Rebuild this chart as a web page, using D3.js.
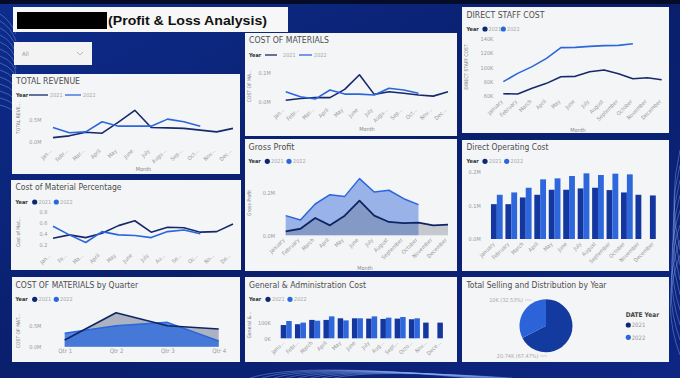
<!DOCTYPE html>
<html><head><meta charset="utf-8">
<script src="https://cdn.jsdelivr.net/npm/d3@7"></script>
<style>
html,body{margin:0;padding:0;background:#0a1f6b;}
svg{display:block;}
</style></head><body><svg id="c" width="680" height="378"></svg>
<script>
// ---------------- DATA ----------------
const months = ["January","February","March","April","May","June","July","August","September","October","November","December"];
const monthLblA = ["Jan...","Febr...","Mar...","April","May","June","July","Augu...","Sep...","Oct...","Nov...","Dec..."];
const monthLblB = ["Jan...","Fe...","Ma...","April","May","June","July","Au...","Se...","Oc...","No...","De..."];
const monthLblC = ["Janu...","Febr...","March","April","May","June","July","Aug...","Sept...","Octo...","Nov...","Dece..."];
const quarters = ["Qtr 1","Qtr 2","Qtr 3","Qtr 4"];
const years = ["2021","2022"];

const revenue2021 = [0.10,0.14,0.22,0.20,0.45,0.72,0.33,0.32,0.31,0.27,0.23,0.31];
const revenue2022 = [0.33,0.21,0.23,0.46,0.36,0.36,0.36,0.52,0.46,0.36];

const materials2021 = [0.006,0.012,0.015,0.015,0.043,0.093,0.026,0.035,0.030,0.024,0.020,0.035];
const materials2022 = [0.035,0.018,0.010,0.041,0.027,0.027,0.024,0.047,0.041,0.030];

const staff2021 = [62.8,62.4,70.4,77.4,86.8,87.3,93.9,96.2,91.0,84.0,85.4,82.6];
const staff2022 = [79.8,91.5,101.0,112.7,127.8,128.2,129.6,130.6,131.0,133.4];

const matPct2021 = [0.32,0.38,0.33,0.41,0.55,0.64,0.43,0.52,0.51,0.43,0.44,0.58];
const matPct2022 = [0.54,0.38,0.24,0.44,0.38,0.37,0.33,0.44,0.47,0.40];

const gross2021 = [0.019,0.031,0.082,0.047,0.093,0.164,0.093,0.063,0.058,0.060,0.047,0.050];
const gross2022 = [0.093,0.072,0.148,0.192,0.184,0.268,0.205,0.213,0.173,0.145];

const opCost2021 = [0.104,0.104,0.124,0.132,0.147,0.147,0.151,0.153,0.146,0.139,0.132,0.130];
const opCost2022 = [0.132,0.139,0.153,0.178,0.181,0.188,0.196,0.191,0.195,0.193];

const matQ2021 = [0.16,0.81,0.50,0.42];
const matQ2022 = [0.32,0.50,0.58,0.135];

const ga2021 = [83,88,115,115,125,125,123,121,123,119,98,98];
const ga2022 = [108,98,110,137,112,125,137,129,133,125];

const selling = [20.74,10];
const sellingLabels = ["20.74K (67.47%)","10K (32.53%)"];

// ---------------- STYLE ----------------
const FONT = "'Liberation Sans Narrow','DejaVu Sans Condensed',Roboto,sans-serif";
const C21 = "#17296a", C22 = "#2c66db";
const B21 = "#14379f", B22 = "#2e67dc";
const TXT = "#9a9a9a";

const svg = d3.select("#c");
const defs = svg.append("defs");
const bg = defs.append("linearGradient").attr("id","bg").attr("x1",0).attr("y1",0).attr("x2",1).attr("y2",1);
bg.append("stop").attr("offset",0).attr("stop-color","#0d2c8c");
bg.append("stop").attr("offset",0.5).attr("stop-color","#0a1f6c");
bg.append("stop").attr("offset",1).attr("stop-color","#0c2682");
svg.append("rect").attr("width",680).attr("height",378).attr("fill","url(#bg)");
svg.append("rect").attr("width",680).attr("height",4).attr("fill","#050c28");

// decorative swirls
const sw = svg.append("g").attr("fill","none").attr("stroke","#8fb0f5").attr("stroke-opacity",0.45).attr("stroke-width",0.9);
for(let i=0;i<14;i++){
  sw.append("path").attr("d",`M0,${14+i*7} Q${10+i},${20+i*7} ${16},${34+i*7}`);
}
for(let i=0;i<8;i++){
  sw.append("path").attr("d",`M${250+i*12},378 Q${300+i*10},${362+i} ${470+i*6},378`);
  sw.append("path").attr("d",`M680,${150+i*15} Q${668-i},${200+i*15} 680,${250+i*15}`);
}

function panel(x,y,w,h){
  svg.append("rect").attr("x",x).attr("y",y).attr("width",w).attr("height",h).attr("fill","#f3f5f7");
}
function title(x,y,t,len,size){
  svg.append("text").attr("x",x).attr("y",y).attr("font-family",FONT).attr("font-size",size)
    .attr("fill","#4d4d4d").attr("textLength",len).attr("lengthAdjust","spacingAndGlyphs").text(t);
}
function smallText(x,y,t,opts={}){
  return svg.append("text").attr("x",x).attr("y",y).attr("font-family",FONT).attr("font-size",opts.size||5.5)
    .attr("fill",opts.fill||TXT).attr("text-anchor",opts.anchor||"start")
    .attr("font-weight",opts.weight||"normal").text(t);
}
function legend(y, yearX, items, kind){
  smallText(yearX, y+2, "Year", {fill:"#333", weight:"bold"});
  items.forEach(it=>{
    if(kind==="line"){
      svg.append("line").attr("x1",it.x).attr("x2",it.x2).attr("y1",y).attr("y2",y)
        .attr("stroke",it.color).attr("stroke-width",1.3);
    } else {
      svg.append("circle").attr("cx",it.x).attr("cy",y).attr("r",2.6).attr("fill",it.color);
    }
    smallText(it.tx, y+2, it.label, {fill:"#a8a8a8"});
  });
}
function yAxis(scale, vals, fmt, xRight){
  const g = svg.append("g").attr("transform",`translate(${xRight},0)`)
    .call(d3.axisLeft(scale).tickValues(vals).tickFormat(fmt).tickSize(0).tickPadding(0));
  g.select(".domain").remove();
  g.selectAll("text").attr("font-family",FONT).attr("font-size",5.5).attr("fill",TXT);
}
function yTitle(x,cy,t){
  svg.append("text").attr("transform",`translate(${x},${cy}) rotate(-90)`).attr("text-anchor","middle")
    .attr("font-family",FONT).attr("font-size",5).attr("fill","#777").text(t);
}
function xAxisRot(scale, labels, y, dx){
  const g = svg.append("g").attr("transform",`translate(${dx},${y})`)
    .call(d3.axisBottom(scale).tickSize(0).tickPadding(0).tickFormat((d,i)=>labels[i]));
  g.select(".domain").remove();
  g.selectAll("text").attr("x",0).attr("y",0).attr("dy","0.35em").attr("text-anchor","end")
    .attr("transform","rotate(-45)").attr("font-family",FONT).attr("font-size",5.5).attr("fill",TXT);
}
function lineSeries(x, y, cats, vals, color, w){
  const ln = d3.line().x((d,i)=>x(cats[i])).y(d=>y(d));
  svg.append("path").attr("d",ln(vals)).attr("fill","none").attr("stroke",color)
    .attr("stroke-width",w).attr("stroke-linejoin","round");
}
function areaSeries(x, y, cats, vals, fill){
  const ar = d3.area().x((d,i)=>x(cats[i])).y0(y(0)).y1(d=>y(d));
  svg.append("path").attr("d",ar(vals)).attr("fill",fill);
}

// ---------------- TITLE + SLICER ----------------
svg.append("rect").attr("x",13).attr("y",7).attr("width",275).attr("height",25).attr("fill","#f7f7f7");
svg.append("rect").attr("x",17).attr("y",12).attr("width",90).attr("height",17).attr("fill","#000");
svg.append("text").attr("x",108).attr("y",25).attr("font-family","'Liberation Sans',Arial,sans-serif")
  .attr("font-weight","bold").attr("font-size",12.5).attr("fill","#111")
  .attr("textLength",159).attr("lengthAdjust","spacingAndGlyphs").text("(Profit & Loss Analysis)");
svg.append("rect").attr("x",14).attr("y",42).attr("width",78).attr("height",23).attr("fill","#f3f3f3");
smallText(22,56,"All",{size:6,fill:"#999"});
svg.append("path").attr("d","M77,52 L80,55 L83,52").attr("fill","none").attr("stroke","#aaa").attr("stroke-width",0.8);

// ---------------- TOTAL REVENUE ----------------
panel(12,74,228,100);
title(16,84,"TOTAL REVENUE",64,8.5);
legend(95,16,[{x:29,x2:48,tx:50,label:"2021",color:C21},{x:65,x2:81,tx:83,label:"2022",color:C22}],"line");
{
  const x = d3.scalePoint(months,[53,233]);
  const y = d3.scaleLinear().domain([0,0.5]).range([142,120]);
  yAxis(y,[0,0.5],d=>d3.format(".1f")(d)+"M",41.5);
  yTitle(20,118,"TOTAL REVE...");
  xAxisRot(x,monthLblA,150,-3);
  smallText(143.5,171,"Month",{anchor:"middle",fill:"#888"});
  lineSeries(x,y,months,revenue2021,C21,1.6);
  lineSeries(x,y,months,revenue2022,C22,1.6);
}

// ---------------- COST OF MATERIALS ----------------
panel(245,33,212,103);
title(249,43.3,"COST OF MATERIALS",80,8.5);
legend(55,249,[{x:265,x2:277,tx:283,label:"2021",color:C21},{x:299,x2:312,tx:314,label:"2022",color:C22}],"line");
{
  const x = d3.scalePoint(months,[285.7,448]);
  const y = d3.scaleLinear().domain([0,0.1]).range([102,72.7]);
  yAxis(y,[0,0.1],d=>d3.format(".1f")(d)+"M",270.7);
  yTitle(251,86,"COST OF MA...");
  xAxisRot(x,monthLblA,109,-3);
  smallText(367,131,"Month",{anchor:"middle",fill:"#888"});
  lineSeries(x,y,months,materials2021,C21,1.6);
  lineSeries(x,y,months,materials2022,C22,1.6);
}

// ---------------- DIRECT STAFF COST ----------------
panel(462,7,207,126);
title(466.5,17.5,"DIRECT STAFF COST",78,8.5);
legend(29,466.5,[{x:485,tx:488.5,label:"2021",color:"#0c2774"},{x:503.3,tx:507,label:"2022",color:C22}],"dot");
{
  const x = d3.scalePoint(months,[503.3,661.7]);
  const y = d3.scaleLinear().domain([60,140]).range([95.7,39]);
  yAxis(y,[60,80,100,120,140],d=>d+"K",493.3);
  yTitle(468,67,"DIRECT STAFF COST");
  xAxisRot(x,months,100.5,-2);
  smallText(578,131.5,"Month",{anchor:"middle",fill:"#888"});
  lineSeries(x,y,months,staff2021,C21,1.6);
  lineSeries(x,y,months,staff2022,C22,1.6);
}

// ---------------- COST OF MATERIAL PERCENTAGE ----------------
panel(11,180,230,90);
title(15.5,190,"Cost of Material Percentage",106,9.5);
legend(202,15.5,[{x:34.7,tx:38.5,label:"2021",color:"#0c2774"},{x:56.3,tx:60,label:"2022",color:C22}],"dot");
{
  const x = d3.scalePoint(months,[53,233]);
  const y = d3.scaleLinear().domain([0.2,0.8]).range([244.7,212]);
  yAxis(y,[0.2,0.4,0.6,0.8],d=>d3.format(".1f")(d),47.3);
  yTitle(20,232,"Cost of Mat...");
  xAxisRot(x,monthLblB,254.5,-4);
  lineSeries(x,y,months,matPct2021,C21,1.6);
  lineSeries(x,y,months,matPct2022,C22,1.6);
}

// ---------------- GROSS PROFIT ----------------
panel(245,139,212,132);
title(248.5,149.7,"Gross Profit",46,9.5);
legend(161.3,248.5,[{x:267.3,tx:271,label:"2021",color:"#0c2774"},{x:289,tx:293,label:"2022",color:C22}],"dot");
{
  const x = d3.scalePoint(months,[285.7,448]);
  const y = d3.scaleLinear().domain([0,0.2]).range([235.3,193]);
  yAxis(y,[0,0.2],d=>d3.format(".1f")(d)+"M",275);
  yTitle(251,203,"Gross Profit");
  xAxisRot(x,months,239,-2.5);
  smallText(365,269.5,"Month",{anchor:"middle",fill:"#888"});
  areaSeries(x,y,months,gross2022,"rgba(45,100,215,0.45)");
  areaSeries(x,y,months,gross2021,"rgba(80,85,105,0.28)");
  lineSeries(x,y,months,gross2022,C22,1.5);
  lineSeries(x,y,months,gross2021,"#0f2563",1.8);
}

// ---------------- DIRECT OPERATING COST ----------------
panel(462,140,207,131);
title(466.5,149.7,"Direct Operating Cost",82,9.5);
legend(161.3,466.5,[{x:485,tx:489,label:"2021",color:"#0c2774"},{x:506.7,tx:510.5,label:"2022",color:C22}],"dot");
{
  const x = d3.scaleBand(months,[489.6,663]).paddingInner(0.19).paddingOuter(0.095);
  const xi = d3.scaleBand(years,[0,x.bandwidth()]);
  const y = d3.scaleLinear().domain([0,0.1]).range([239,205.5]);
  yAxis(y,[0,0.1,0.2],d=>d3.format(".1f")(d)+"M",480.7);
  [[opCost2021,B21,"2021"],[opCost2022,B22,"2022"]].forEach(([vals,col,yr])=>{
    svg.append("g").selectAll("rect").data(vals).join("rect")
      .attr("x",(d,i)=>x(months[i])+xi(yr)).attr("width",xi.bandwidth())
      .attr("y",d=>y(d)).attr("height",d=>y(0)-y(d)).attr("fill",col);
  });
  xAxisRot(x,months,243,-3);
}

// ---------------- COST OF MATERIALS BY QUARTER ----------------
panel(12,277,228,85);
title(15.5,288.3,"COST OF MATERIALS by Quarter",122.7,8.5);
legend(299.3,15.5,[{x:34.7,tx:38.5,label:"2021",color:"#0c2774"},{x:56.3,tx:60,label:"2022",color:C22}],"dot");
{
  const x = d3.scalePoint(quarters,[64.7,218.7]);
  const y = d3.scaleLinear().domain([0,0.5]).range([346.7,325.7]);
  yAxis(y,[0,0.5],d=>d3.format(".1f")(d)+"M",41.3);
  yTitle(20,331,"COST OF MAT...");
  const g = svg.append("g").attr("transform","translate(0,349)")
    .call(d3.axisBottom(x).tickSize(0).tickPadding(0));
  g.select(".domain").remove();
  g.selectAll("text").attr("font-family",FONT).attr("font-size",6).attr("fill",TXT);
  areaSeries(x,y,quarters,matQ2021,"rgba(75,85,115,0.42)");
  areaSeries(x,y,quarters,matQ2022,"rgba(45,105,222,0.8)");
  lineSeries(x,y,quarters,matQ2022,C22,1.5);
  lineSeries(x,y,quarters,matQ2021,"#0f2563",1.6);
}

// ---------------- GENERAL & ADMINISTRATION COST ----------------
panel(245,277,212,85);
title(249,288.3,"General & Administration Cost",117,9.5);
legend(299.3,249,[{x:268,tx:272,label:"2021",color:"#0c2774"},{x:290,tx:294,label:"2022",color:C22}],"dot");
{
  const x = d3.scaleBand(months,[279.1,450]).paddingInner(0.228).paddingOuter(0.114);
  const xi = d3.scaleBand(years,[0,x.bandwidth()]);
  const y = d3.scaleLinear().domain([0,100]).range([338.3,322.3]);
  yAxis(y,[0,100],d=>d+"K",270.7);
  yTitle(251,325,"General &...");
  [[ga2021,B21,"2021"],[ga2022,B22,"2022"]].forEach(([vals,col,yr])=>{
    svg.append("g").selectAll("rect").data(vals).join("rect")
      .attr("x",(d,i)=>x(months[i])+xi(yr)).attr("width",xi.bandwidth())
      .attr("y",d=>y(d)).attr("height",d=>y(0)-y(d)).attr("fill",col);
  });
  xAxisRot(x,monthLblC,342,-3);
}

// ---------------- TOTAL SELLING AND DISTRIBUTION ----------------
panel(462,277,207,85);
title(466.5,288.3,"Total Selling and Distribution by Year",140,9.5);
{
  const arcs = d3.pie().sort(null).value(d=>d)(selling);
  const arc = d3.arc().innerRadius(0).outerRadius(26.5);
  const cols = ["#133a9f","#2c63d9"];
  svg.append("g").attr("transform","translate(546,325.8)").selectAll("path").data(arcs).join("path")
    .attr("d",arc).attr("fill",(d,i)=>cols[i]);
  smallText(523,302,sellingLabels[1],{anchor:"end",fill:"#aaa"});
  svg.append("line").attr("x1",525).attr("x2",532).attr("y1",300).attr("y2",300).attr("stroke","#bbb").attr("stroke-width",0.6);
  smallText(538.5,358,sellingLabels[0],{anchor:"end",fill:"#aaa"});
  svg.append("line").attr("x1",540).attr("x2",547).attr("y1",356).attr("y2",356).attr("stroke","#bbb").attr("stroke-width",0.6);
  smallText(625.7,316.5,"DATE Year",{size:6.5,fill:"#444",weight:"bold"});
  svg.append("circle").attr("cx",628.3).attr("cy",325).attr("r",2.6).attr("fill","#0c2774");
  smallText(631.7,327.3,"2021",{size:6,fill:"#999"});
  svg.append("circle").attr("cx",628.3).attr("cy",337.3).attr("r",2.6).attr("fill",C22);
  smallText(631.7,339.6,"2022",{size:6,fill:"#999"});
}
</script></body></html>
